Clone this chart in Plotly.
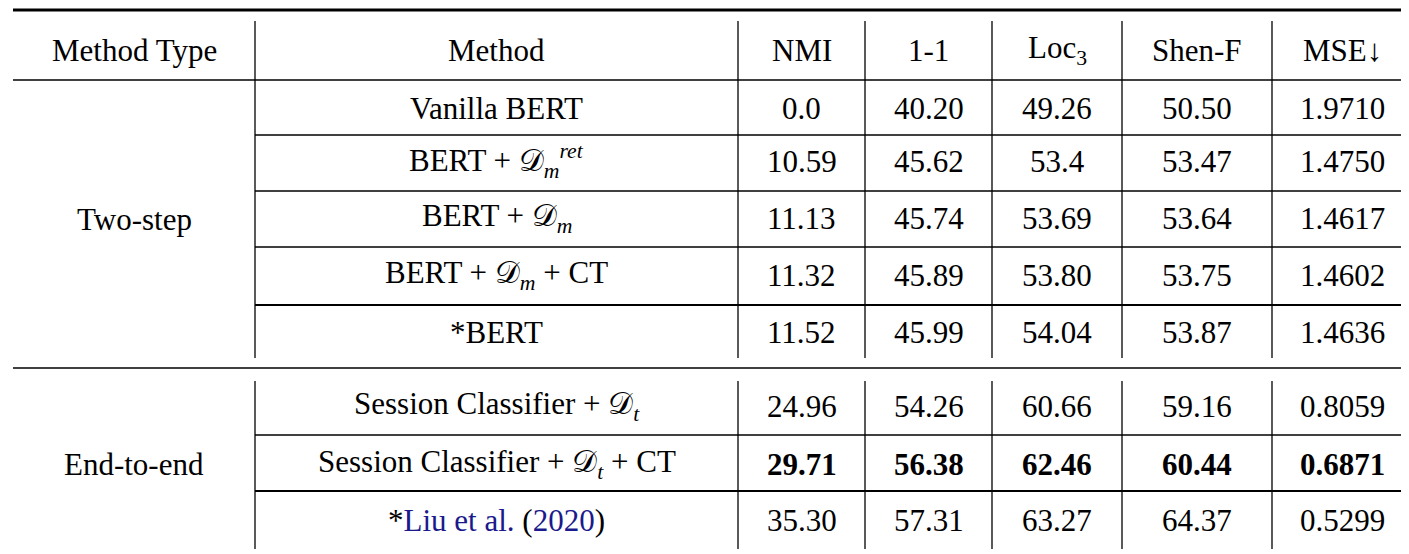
import plotly.graph_objects as go

headers = ["Method Type", "Method", "NMI", "1-1", "Loc<sub>3</sub>", "Shen-F", "MSE↓"]
groups = ["Two-step", "End-to-end"]
methods = [
    "Vanilla BERT",
    "BERT + 𝒟<sub><i>m</i></sub><sup><i>ret</i></sup>",
    "BERT + 𝒟<sub><i>m</i></sub>",
    "BERT + 𝒟<sub><i>m</i></sub> + CT",
    "*BERT",
    "Session Classifier + 𝒟<sub><i>t</i></sub>",
    "Session Classifier + 𝒟<sub><i>t</i></sub> + CT",
    "*<span style='color:#1a1a8c'>Liu et al.</span> (<span style='color:#1a1a8c'>2020</span>)",
]
nmi = ["0.0", "10.59", "11.13", "11.32", "11.52", "24.96", "29.71", "35.30"]
one_one = ["40.20", "45.62", "45.74", "45.89", "45.99", "54.26", "56.38", "57.31"]
loc3 = ["49.26", "53.4", "53.69", "53.80", "54.04", "60.66", "62.46", "63.27"]
shen_f = ["50.50", "53.47", "53.64", "53.75", "53.87", "59.16", "60.44", "64.37"]
mse = ["1.9710", "1.4750", "1.4617", "1.4602", "1.4636", "0.8059", "0.6871", "0.5299"]
bold_rows = [6]

# layout in pixels
col_edges = [5, 247, 730, 857, 984, 1114, 1264, 1405]
row_y = [100, 153, 210, 267, 324, 398, 456, 512]
font = dict(family="'Liberation Serif', 'Times New Roman', serif", size=31, color="black")

fig = go.Figure()
ann = []
shapes = []

def cx(i):
    return (col_edges[i] + col_edges[i + 1]) / 2

for i, h in enumerate(headers):
    ann.append(dict(x=cx(i), y=42, text=h))
ann.append(dict(x=cx(0), y=211, text=groups[0]))
ann.append(dict(x=cx(0), y=456, text=groups[1]))

cols = [methods, nmi, one_one, loc3, shen_f, mse]
for r in range(len(methods)):
    for c, vals in enumerate(cols):
        t = vals[r]
        if r in bold_rows and c > 0:
            t = "<b>" + t + "</b>"
        ann.append(dict(x=cx(c + 1), y=row_y[r], text=t))

for a in ann:
    a.update(xref="x", yref="y", showarrow=False, font=font, xanchor="center", yanchor="middle")

def hline(y, x0, w):
    shapes.append(dict(type="line", x0=x0, x1=col_edges[-1], y0=y, y1=y, line=dict(color="black", width=w)))

hline(2, col_edges[0], 3)
hline(72, col_edges[0], 1.3)
for y in [127, 183, 239]:
    hline(y, col_edges[1], 1.3)
hline(297, col_edges[1], 2)
hline(360, col_edges[0], 1.3)
hline(427, col_edges[1], 1.3)
hline(483, col_edges[1], 2)
hline(551, col_edges[0], 3)

for x in col_edges[1:-1]:
    shapes.append(dict(type="line", x0=x, x1=x, y0=13, y1=350, line=dict(color="black", width=1.3)))
    shapes.append(dict(type="line", x0=x, x1=x, y0=373, y1=541, line=dict(color="black", width=1.3)))

fig.update_layout(
    width=1409, height=554, margin=dict(l=0, r=0, t=0, b=0),
    paper_bgcolor="white", plot_bgcolor="white",
    xaxis=dict(range=[0, 1409], visible=False, fixedrange=True),
    yaxis=dict(range=[554, 0], visible=False, fixedrange=True),
    annotations=ann, shapes=shapes, showlegend=False,
)
fig.write_html("out.html")
